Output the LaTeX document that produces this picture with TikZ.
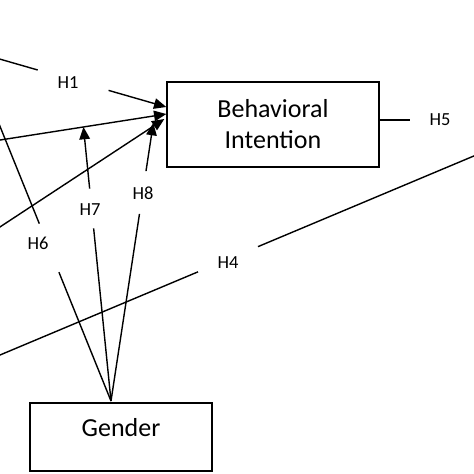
\documentclass[tikz,border=0pt]{standalone}
\usepackage{fontspec}
\setmainfont{Carlito}
\usetikzlibrary{arrows.meta,calc}

\begin{document}
\begin{tikzpicture}[
    x = 0.02cm,
    y = -0.02cm,
    line width = 0.8pt,
    >={Triangle[length=7pt,width=6pt]},
    box/.style = {
      draw,
      rectangle,
      inner sep = 0pt,
      align = center,
      font = \fontsize{14.8}{17.6}\selectfont
    },
    hyp/.style = {
      inner sep = 0pt,
      font = \fontsize{10.5}{12}\selectfont
    }
  ]
  \useasboundingbox (0,0) rectangle (474,474);
  \clip (0,0) rectangle (474,474);

  \node[box, minimum width = 4.24cm, minimum height = 1.7cm] (intent) at (273,124.5) {Behavioral\\Intention};
  \node[box, minimum width = 3.64cm, minimum height = 1.36cm,
        text height = 10pt, text depth = 10.7pt] (gender) at (121,437) {Gender};

  \node[hyp] (h1) at (68,83) {H1};
  \node[hyp] (h4) at (228,263) {H4};
  \node[hyp] (h5) at (440,120) {H5};
  \node[hyp] (h6) at (38,243) {H6};
  \node[hyp] (h7) at (90,210) {H7};
  \node[hyp] (h8) at (143,193) {H8};

  % sources off the left edge
  \coordinate (s1) at (-30,50.5);
  \coordinate (s2) at (-10,141.6);
  \coordinate (s3) at (-10,233.5);
  \coordinate (s4) at (-10,359.2);
  \coordinate (e4) at (490,149.2);
  \coordinate (s6) at (-5,114);
  \coordinate (gtop) at (111,401);

  % arrow tips at the intention box
  \coordinate (t1) at ([yshift=0.35cm]intent.west);
  \coordinate (t2) at ([yshift=0.21cm]intent.west);
  \coordinate (t3) at ([xshift=-0.04cm,yshift=0.11cm]intent.west);
  \coordinate (t8) at ([xshift=-0.26cm,yshift=0.03cm]intent.west);
  \coordinate (t7) at ($(s2)!0.53!(t2)$);

  % H1
  \draw (s1) -- ($(s1)!0.345!(t1)$);
  \draw[->] ($(s1)!0.706!(t1)$) -- (t1);

  \draw[->] (s2) -- (t2);
  \draw[->] (s3) -- (t3);

  % H4
  \draw (s4) -- ($(s4)!0.416!(e4)$);
  \draw ($(s4)!0.536!(e4)$) -- (e4);

  % H5
  \draw[shorten >=0.38cm] (intent.east |- h5) -- (h5.west);

  % H6
  \draw (s6) -- ($(s6)!0.382!(gtop)$);
  \draw ($(s6)!0.551!(gtop)$) -- (gtop);

  % H7
  \draw (gtop) -- ($(gtop)!0.63!(t7)$);
  \draw[->] ($(gtop)!0.775!(t7)$) -- (t7);

  % H8
  \draw (gtop) -- ($(gtop)!0.673!(t8)$);
  \draw[->] ($(gtop)!0.827!(t8)$) -- (t8);

\end{tikzpicture}
\end{document}
